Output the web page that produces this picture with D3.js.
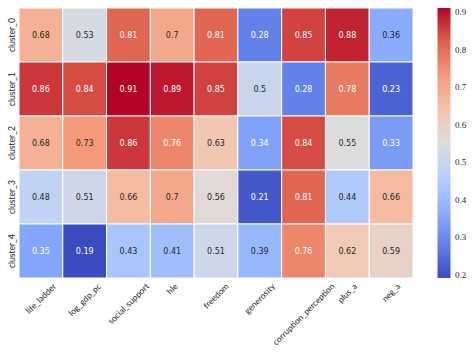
<!DOCTYPE html>
<html><head><meta charset="utf-8">
<script src="https://cdn.jsdelivr.net/npm/d3@7"></script>
<style>body{margin:0;background:#fff}svg{display:block}</style>
</head><body>
<svg id="c" width="474" height="357"></svg>
<script>
const rows = ["cluster_0","cluster_1","cluster_2","cluster_3","cluster_4"];
const cols = ["life_ladder","log_gdp_pc","social_support","hle","freedom","generosity","corruption_perception","plus_a","neg_a"];
const cluster0 = [0.68,0.53,0.81,0.70,0.81,0.28,0.85,0.88,0.36];
const cluster1 = [0.86,0.84,0.91,0.89,0.85,0.50,0.28,0.78,0.23];
const cluster2 = [0.68,0.73,0.86,0.76,0.63,0.34,0.84,0.55,0.33];
const cluster3 = [0.48,0.51,0.66,0.70,0.56,0.21,0.81,0.44,0.66];
const cluster4 = [0.35,0.19,0.43,0.41,0.51,0.39,0.76,0.62,0.59];
const colorbarTicks = [0.2,0.3,0.4,0.5,0.6,0.7,0.8,0.9];
const coolwarm = ["#3b4cc0","#6282ea","#8db0fe","#b8d0f9","#dddcdc","#f5c4ac","#f49a7b","#de604d","#b40426"];

const values = [cluster0,cluster1,cluster2,cluster3,cluster4];
const cells = [];
values.forEach((r,i)=>r.forEach((v,j)=>cells.push({row:rows[i],col:cols[j],v})));
const vmin = d3.min(cells,d=>d.v), vmax = d3.max(cells,d=>d.v);

const svg = d3.select("#c");
const L=19, R=413, T=8, B=278;
const x = d3.scaleBand().domain(cols).range([L,R]);
const y = d3.scaleBand().domain(rows).range([T,B]);
const norm = d3.scaleLinear().domain([vmin,vmax]).range([0,1]);
const cmap = d3.scaleLinear().domain(d3.range(9).map(i=>i/8)).range(coolwarm).interpolate(d3.interpolateRgb);
const color = v => cmap(Math.max(0,Math.min(1,norm(v))));

function lum(c){
  const rgb=d3.rgb(c);
  const f=u=>{u/=255;return u<=0.03928?u/12.92:Math.pow((u+0.055)/1.055,2.4);};
  return 0.2126*f(rgb.r)+0.7152*f(rgb.g)+0.0722*f(rgb.b);
}

svg.append("g").selectAll("rect").data(cells).join("rect")
  .attr("x",d=>x(d.col)).attr("y",d=>y(d.row))
  .attr("width",x.bandwidth()).attr("height",y.bandwidth())
  .attr("fill",d=>color(d.v)).attr("stroke","#fff").attr("stroke-width",1);

svg.append("g").selectAll("text").data(cells).join("text")
  .attr("x",d=>x(d.col)+x.bandwidth()/2).attr("y",d=>y(d.row)+y.bandwidth()/2)
  .attr("text-anchor","middle").attr("dominant-baseline","central")
  .attr("font-family","DejaVu Sans").attr("font-size",8)
  .attr("fill",d=>lum(color(d.v))>0.408?"#262626":"#ffffff")
  .text(d=>String(+d.v.toFixed(2)));

// y labels
svg.append("g").selectAll("text").data(rows).join("text")
  .attr("transform",d=>`translate(11.5,${y(d)+y.bandwidth()/2}) rotate(-90)`)
  .attr("text-anchor","middle").attr("dominant-baseline","central")
  .attr("font-family","Lato").attr("font-size",8.5).attr("fill","#262626")
  .text(d=>d);

// x labels rotated 45, bbox centered on tick
const xl = svg.append("g").selectAll("text").data(cols).join("text")
  .attr("text-anchor","middle").attr("dominant-baseline","central")
  .attr("font-family","Lato").attr("font-size",8.5).attr("fill","#262626")
  .text(d=>d);
xl.each(function(d){
  const w=this.getComputedTextLength(), h=8;
  const half=(w+h)/(2*Math.SQRT2);
  d3.select(this).attr("transform",`translate(${x(d)+x.bandwidth()/2},${282+half}) rotate(-45)`);
});

// colorbar
const cbL=437.5, cbW=13;
const defs=svg.append("defs");
const grad=defs.append("linearGradient").attr("id","cb").attr("x1",0).attr("y1",1).attr("x2",0).attr("y2",0);
grad.selectAll("stop").data(coolwarm).join("stop")
  .attr("offset",(d,i)=>i/8).attr("stop-color",d=>d);
svg.append("rect").attr("x",cbL).attr("y",T).attr("width",cbW).attr("height",B-T).attr("fill","url(#cb)");
const cy = d3.scaleLinear().domain([vmin,vmax]).range([B,T]);
const ax = svg.append("g").attr("transform",`translate(${cbL+cbW},0)`)
  .call(d3.axisRight(cy).tickValues(colorbarTicks).tickSize(0).tickPadding(4.5).tickFormat(d3.format(".1f")));
ax.select(".domain").remove();
ax.selectAll(".tick line").remove();
ax.selectAll("text").attr("font-family","Liberation Serif").attr("font-size",9).attr("fill","#262626");
</script>
</body></html>
